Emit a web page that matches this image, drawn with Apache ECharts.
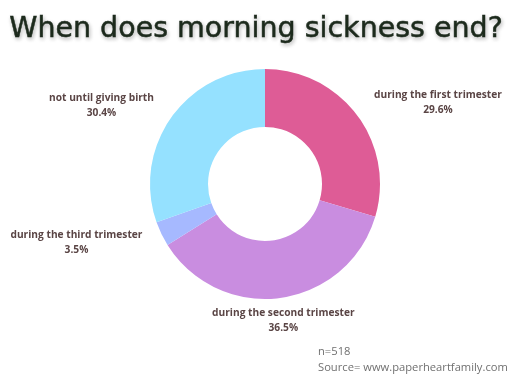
<!DOCTYPE html>
<html><head><meta charset="utf-8">
<script src="https://cdn.jsdelivr.net/npm/echarts@6/dist/echarts.min.js"></script>
<style>html,body{margin:0;padding:0;background:#fff}#c{width:512px;height:384px}</style>
</head><body><div id="c"></div>
<script>
const categories = ['during the first trimester', 'during the second trimester', 'during the third trimester', 'not until giving birth'];
const values = [29.6, 36.5, 3.5, 30.4];
const colors = ['#DE5C96', '#C98DE0', '#A6B9FF', '#95E1FF'];
const sampleNote = 'n=518';
const sourceNote = 'Source= www.paperheartfamily.com';

const chart = echarts.init(document.getElementById('c'));
chart.setOption({
  animation: false,
  title: [{
    text: 'When does morning sickness end?',
    left: 'center', top: 15, padding: 0,
    textStyle: {
      fontFamily: 'DejaVu Sans', fontWeight: 'normal', fontSize: 28.5, color: '#1c2a1c',
      textBorderColor: '#1c2a1c', textBorderWidth: 0.5,
      textShadowColor: 'rgba(0,0,0,0.28)', textShadowBlur: 4, textShadowOffsetX: 1, textShadowOffsetY: 2
    }
  }, {
    text: sampleNote + '\n' + sourceNote,
    left: 318, top: 344, padding: 0,
    textStyle: { fontFamily: 'Open Sans', fontWeight: 'normal', fontSize: 11.2, color: '#707070', lineHeight: 16 }
  }],
  series: [{
    type: 'pie',
    center: [265, 184],
    radius: [57, 115],
    startAngle: 90,
    clockwise: true,
    avoidLabelOverlap: false,
    data: categories.map((c, i) => ({ name: c, value: values[i], itemStyle: { color: colors[i] } })),
    label: {
      show: true,
      position: 'outside',
      distanceToLabelLine: 0,
      formatter: p => '{a|' + p.name + '}\n{a|' + p.value.toFixed(1) + '%}',
      rich: {
        a: { fontFamily: 'Open Sans', fontWeight: 'bold', fontSize: 10.2, color: '#5a4545', align: 'center', lineHeight: 15 }
      }
    },
    labelLine: { show: false, length: 21, length2: 0 },
    labelLayout: p => p.dataIndex === 1 ? { align: 'center', dy: 2 } : {}
  }]
});
</script></body></html>
